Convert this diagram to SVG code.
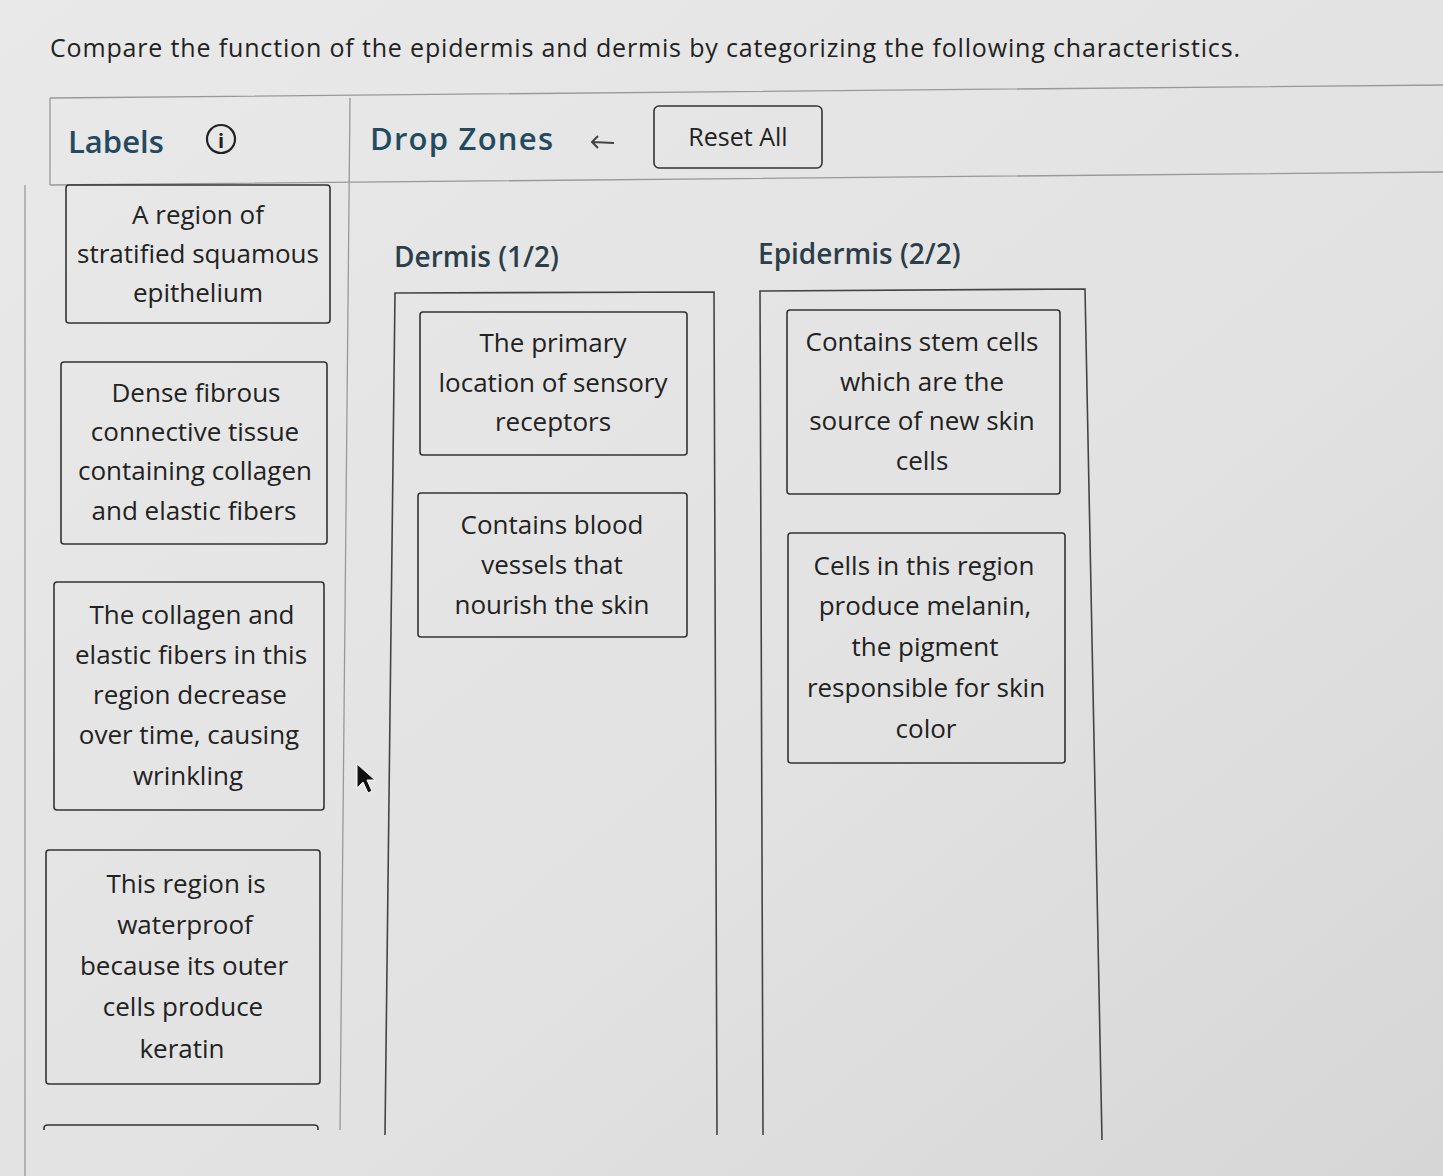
<svg xmlns="http://www.w3.org/2000/svg" width="1443" height="1176" viewBox="0 0 1443 1176">
<defs>
<linearGradient id="bg" x1="0" y1="0" x2="1" y2="1">
<stop offset="0" stop-color="#e9e9e9"/><stop offset="0.6" stop-color="#e2e2e2"/><stop offset="1" stop-color="#d6d6d6"/>
</linearGradient>
</defs>
<style>
text{font-family:"Open Sans","Liberation Sans",sans-serif;fill:#222;}
.t{font-size:26px;text-anchor:middle;}
.h{font-size:31px;font-weight:600;fill:#234a5e;}
.z{font-size:28px;font-weight:600;fill:#2c3e4a;}
.box{fill:none;stroke:#333;stroke-width:1.6;}
.ln{stroke:#999;stroke-width:1.3;fill:none;}
.col{fill:none;stroke:#444;stroke-width:1.6;}
</style>
<rect width="1443" height="1176" fill="url(#bg)"/>
<text x="50" y="57" font-size="25" textLength="1190" lengthAdjust="spacing">Compare the function of the epidermis and dermis by categorizing the following characteristics.</text>
<g id="frame">
<path class="ln" d="M50 98 L1443 85 M50 185 L1443 172 M50 98 L50 185 M350 98 L340 1130 M25 185 L25 1176"/>
</g>
<g id="header">
<text class="h" x="68" y="153">Labels</text>
<circle cx="221" cy="139" r="14" fill="none" stroke="#222" stroke-width="2.2"/>
<text x="221" y="148" font-size="20" font-weight="700" text-anchor="middle">i</text>
<text class="h" x="370" y="150" textLength="183" lengthAdjust="spacing">Drop Zones</text>
<path d="M614 143 L592 142 M598 136 L592 142 L598 148" stroke="#444" stroke-width="2" fill="none"/>
<rect x="654" y="106" width="168" height="62" rx="5" class="box"/>
<text x="738" y="146" font-size="25" text-anchor="middle">Reset All</text>
</g>
<g id="label1"><rect class="box" x="66" y="185" width="264" height="138" rx="3"/>
<text class="t" x="198" y="224">A region of</text><text class="t" x="198" y="263">stratified squamous</text><text class="t" x="198" y="302">epithelium</text></g>
<g id="label2"><rect class="box" x="61" y="362" width="266" height="182" rx="3"/>
<text class="t" x="196" y="402">Dense fibrous</text><text class="t" x="195" y="441">connective tissue</text><text class="t" x="195" y="480">containing collagen</text><text class="t" x="194" y="520">and elastic fibers</text></g>
<g id="label3"><rect class="box" x="54" y="582" width="270" height="228" rx="3"/>
<text class="t" x="192" y="624">The collagen and</text><text class="t" x="191" y="664">elastic fibers in this</text><text class="t" x="190" y="704">region decrease</text><text class="t" x="189" y="744">over time, causing</text><text class="t" x="188" y="785">wrinkling</text></g>
<g id="label4"><rect class="box" x="46" y="850" width="274" height="234" rx="3"/>
<text class="t" x="186" y="893">This region is</text><text class="t" x="185" y="934">waterproof</text><text class="t" x="184" y="975">because its outer</text><text class="t" x="183" y="1016">cells produce</text><text class="t" x="182" y="1058">keratin</text></g>
<g id="label5"><path class="box" d="M44 1130 L44 1128 Q44 1125 48 1125 L314 1125 Q318 1125 318 1128 L318 1130"/></g>
<g id="dermis">
<text class="z" x="394" y="267">Dermis (1/2)</text>
<path class="col" d="M385 1135 L395 293 L714 292 L717 1135"/>
<g id="d1"><rect class="box" x="420" y="312" width="267" height="143" rx="3"/>
<text class="t" x="553" y="352">The primary</text><text class="t" x="553" y="392">location of sensory</text><text class="t" x="553" y="431">receptors</text></g>
<g id="d2"><rect class="box" x="418" y="493" width="269" height="144" rx="3"/>
<text class="t" x="552" y="534">Contains blood</text><text class="t" x="552" y="574">vessels that</text><text class="t" x="552" y="614">nourish the skin</text></g>
</g>
<g id="epidermis">
<text class="z" x="758" y="264">Epidermis (2/2)</text>
<path class="col" d="M763 1135 L760 291 L1085 289 L1102 1140"/>
<g id="e1"><rect class="box" x="787" y="310" width="273" height="184" rx="3"/>
<text class="t" x="922" y="351">Contains stem cells</text><text class="t" x="922" y="391">which are the</text><text class="t" x="922" y="430">source of new skin</text><text class="t" x="922" y="470">cells</text></g>
<g id="e2"><rect class="box" x="788" y="533" width="277" height="230" rx="3"/>
<text class="t" x="924" y="575">Cells in this region</text><text class="t" x="925" y="615">produce melanin,</text><text class="t" x="925" y="656">the pigment</text><text class="t" x="926" y="697">responsible for skin</text><text class="t" x="926" y="738">color</text></g>
</g>
<g id="cursor"><path d="M357 764 L357 788 L363 782 L368 793 L372 791 L367 780 L375 780 Z" fill="#111" stroke="#fff" stroke-width="1"/></g>
</svg>
